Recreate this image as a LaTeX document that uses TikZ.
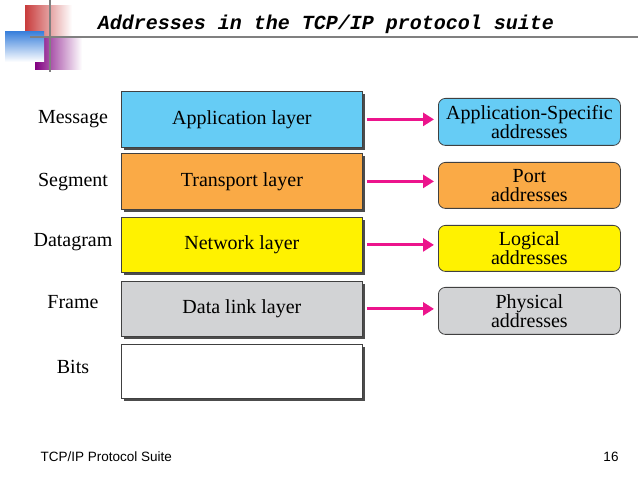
\documentclass[tikz,border=0pt]{standalone}
\usepackage{fontspec}
\setmainfont{Liberation Serif}
\newfontfamily\monof{Liberation Mono}
\newfontfamily\sansf{Liberation Sans}
\usetikzlibrary{arrows.meta}
\begin{document}
\begin{tikzpicture}[x=1pt,y=-1pt,
  layer/.style={draw=black!75,line width=0.8pt,minimum width=241pt,inner sep=0pt,font=\fontsize{20}{22}\selectfont},
  addr/.style={draw=black!75,line width=0.8pt,rounded corners=7pt,minimum width=182pt,inner sep=0pt,align=center,font=\fontsize{20}{19}\selectfont},
  lbl/.style={font=\fontsize{20}{22}\selectfont},
  arr/.style={draw={rgb,255:red,236;green,20;blue,140},line width=3pt,-{Triangle[length=11pt,width=13pt]}}]
\useasboundingbox (0,0) rectangle (638,478);
\definecolor{appc}{RGB}{102,204,245}
\definecolor{trc}{RGB}{250,170,70}
\definecolor{nwc}{RGB}{255,242,0}
\definecolor{dlc}{RGB}{210,211,213}
% logo
\shade[left color={rgb,255:red,200;green,60;blue,60},right color=white] (25,6) rectangle (72,38);
\shade[left color={rgb,255:red,128;green,0;blue,128},right color=white] (35,38) rectangle (82,70);
\shade[top color={rgb,255:red,60;green,130;blue,220},bottom color=white] (5,32) rectangle (44,62);
\draw[gray,line width=1.2pt] (50,0) -- (50,72);
\draw[gray,line width=1.2pt] (30,37) -- (638,37);
\node[font=\monof\bfseries\itshape\fontsize{20}{22}\selectfont] (title) at (326,24) {Addresses in the TCP/IP protocol suite};
% layers
\foreach \n/\c/\t/\y/\h in {app/appc/Application layer/91/56,tr/trc/Transport layer/153/56,nw/nwc/Network layer/217/55,dl/dlc/Data link layer/281/55,bt/white//344/54}{
  \fill[black!70] (124,\y+3) rectangle (365,\y+\h+3);
  \node[layer,fill=\c,minimum height=\h pt,anchor=north west] (\n) at (121,\y) {\t};
}
\node[addr,fill=appc,minimum height=47pt,anchor=north west] (aa) at (438,98) {Application-Specific\\addresses};
\node[addr,fill=trc,minimum height=46pt,anchor=north west] (ta) at (438,162) {Port\\addresses};
\node[addr,fill=nwc,minimum height=46pt,anchor=north west] (na) at (438,225) {Logical\\addresses};
\node[addr,fill=dlc,minimum height=47pt,anchor=north west] (da) at (438,287) {Physical\\addresses};
\foreach \a/\b in {app/aa,tr/ta,nw/na,dl/da}{
  \draw[arr] ([xshift=4pt]\a.east) -- ([xshift=-4pt]\b.west |- \a.east);
}
\node[lbl] (m) at (73,119) {Message};
\node[lbl] (s) at (73,182) {Segment};
\node[lbl] (d) at (73,242) {Datagram};
\node[lbl] (f) at (73,302) {Frame};
\node[lbl] (b) at (73,367) {Bits};
\node[font=\sansf\fontsize{13.5}{15}\selectfont,anchor=west] (foot) at (37,457) {TCP/IP Protocol Suite};
\node[font=\sansf\fontsize{13.5}{15}\selectfont] (pg) at (611,457) {16};
\end{tikzpicture}
\end{document}
